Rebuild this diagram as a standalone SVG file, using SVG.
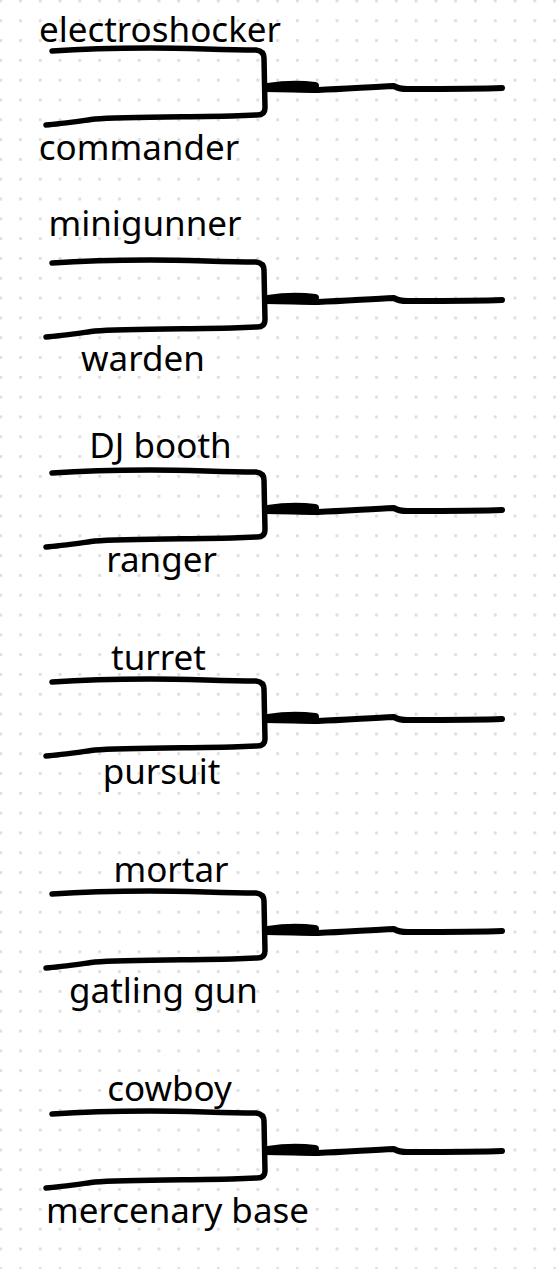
<svg xmlns="http://www.w3.org/2000/svg" xmlns:xlink="http://www.w3.org/1999/xlink" width="559" height="1269" viewBox="0 0 559 1269">
<style>
.lbl{font-family:"Noto Sans","Open Sans","DejaVu Sans",sans-serif;font-size:35px;fill:#000;text-anchor:middle}
.ink{fill:none;stroke:#000;stroke-linecap:round;stroke-linejoin:round}
</style>
<defs>
<pattern id="grid" x="-0.7" y="-0.5" width="19.78" height="19.81" patternUnits="userSpaceOnUse">
<rect x="0" y="0" width="2.8" height="2.8" fill="#dcdcdc"/>
</pattern>
<g id="bracket">
<path class="ink" stroke-width="5.5" d="M52,51 C80,49 120,48 150,48 C190,48 220,50 256,50 Q264,51 264,58 L265,108 Q265,115 257,115 L232,116 C180,117 120,117 95,119 C80,121 60,124 46,125"/>
<path class="ink" stroke-width="6" d="M266,89 C285,89 300,90 318,90 C345,89 370,87 394,86 Q398,89 408,89 C440,89 480,89 502,88"/>
<path class="ink" stroke-width="8" d="M268,87 C280,85 300,84 315,86"/>
</g>
</defs>
<rect width="559" height="1269" fill="#fff"/>
<rect width="559" height="1269" fill="url(#grid)"/>
<g id="connectors">
<use xlink:href="#bracket" transform="translate(0,0)"/>
<use xlink:href="#bracket" transform="translate(0,212)"/>
<use xlink:href="#bracket" transform="translate(0,422)"/>
<use xlink:href="#bracket" transform="translate(0,631)"/>
<use xlink:href="#bracket" transform="translate(0,843)"/>
<use xlink:href="#bracket" transform="translate(0,1063)"/>
</g>
<g id="electroshocker"><text class="lbl" x="160" y="42">electroshocker</text></g>
<g id="commander"><text class="lbl" x="139" y="160">commander</text></g>
<g id="minigunner"><text class="lbl" x="145" y="236">minigunner</text></g>
<g id="warden"><text class="lbl" x="143" y="371">warden</text></g>
<g id="dj-booth"><text class="lbl" x="160.5" y="458">DJ booth</text></g>
<g id="ranger"><text class="lbl" x="161.5" y="572">ranger</text></g>
<g id="turret"><text class="lbl" x="158.5" y="670">turret</text></g>
<g id="pursuit"><text class="lbl" x="161.5" y="784">pursuit</text></g>
<g id="mortar"><text class="lbl" x="171" y="882">mortar</text></g>
<g id="gatling-gun"><text class="lbl" x="163.5" y="1003">gatling gun</text></g>
<g id="cowboy"><text class="lbl" x="169.5" y="1101">cowboy</text></g>
<g id="mercenary-base"><text class="lbl" x="177.5" y="1223">mercenary base</text></g>
</svg>
